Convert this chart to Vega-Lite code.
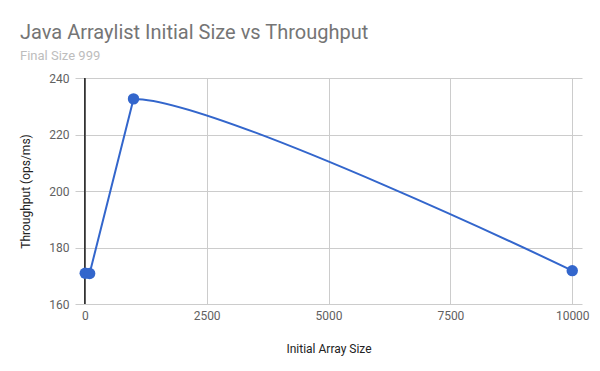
{
  "$schema": "https://vega.github.io/schema/vega-lite/v6.json",
  "autosize": "none",
  "width": 507,
  "height": 226,
  "padding": {"left": 75, "top": 78, "right": 18, "bottom": 67},
  "background": "white",
  "title": {
    "text": "Java Arraylist Initial Size vs Throughput",
    "subtitle": "Final Size 999",
    "anchor": "start",
    "frame": "group",
    "dx": -55,
    "offset": 9,
    "font": "Roboto",
    "fontSize": 20,
    "fontWeight": "normal",
    "color": "#757575",
    "subtitleFont": "Roboto",
    "subtitleFontSize": 13,
    "subtitleColor": "#bdbdbd",
    "subtitlePadding": 7
  },
  "data": {
    "values": [
      {"size": 10, "throughput": 170.9},
      {"size": 100, "throughput": 170.8},
      {"size": 1000, "throughput": 232.6},
      {"size": 10000, "throughput": 171.8}
    ]
  },
  "config": {
    "view": {"stroke": null},
    "axis": {
      "labelFont": "Roboto",
      "labelFontSize": 12,
      "labelColor": "#616161",
      "titleFont": "Roboto",
      "titleFontSize": 12,
      "titleFontWeight": "normal",
      "titleColor": "#222222",
      "gridColor": "#cccccc",
      "gridOpacity": 1,
      "ticks": false,
      "domain": false,
      "labelFlush": false
    }
  },
  "layer": [
    {
      "mark": {"type": "rule", "color": "#333333", "strokeWidth": 1},
      "encoding": {"x": {"datum": 0, "type": "quantitative"}}
    },
    {
      "transform": [{"filter": "datum.size <= 1000"}],
      "mark": {"type": "line", "interpolate": "linear", "color": "#3366cc", "strokeWidth": 2},
      "encoding": {
        "x": {
          "field": "size",
          "type": "quantitative",
          "scale": {"domain": [-200, 10200], "nice": false, "zero": false},
          "axis": {
            "values": [0, 2500, 5000, 7500, 10000],
            "format": "d",
            "title": "Initial Array Size",
            "titlePadding": 22,
            "labelPadding": 6,
            "grid": true
          }
        },
        "y": {
          "field": "throughput",
          "type": "quantitative",
          "scale": {"domain": [160, 240], "nice": false, "zero": false},
          "axis": {
            "values": [160, 180, 200, 220, 240],
            "title": "Throughput (ops/ms)",
            "titlePadding": 16,
            "labelPadding": 6,
            "grid": true
          }
        }
      }
    },
    {
      "transform": [{"filter": "datum.size >= 100"}],
      "mark": {"type": "line", "interpolate": "cardinal", "color": "#3366cc", "strokeWidth": 2, "strokeDash": [0, 201, 3000, 0]},
      "encoding": {
        "x": {"field": "size", "type": "quantitative"},
        "y": {"field": "throughput", "type": "quantitative"}
      }
    },
    {
      "mark": {"type": "point", "filled": true, "opacity": 1, "size": 130, "color": "#3366cc"},
      "encoding": {
        "x": {"field": "size", "type": "quantitative"},
        "y": {"field": "throughput", "type": "quantitative"}
      }
    }
  ]
}
